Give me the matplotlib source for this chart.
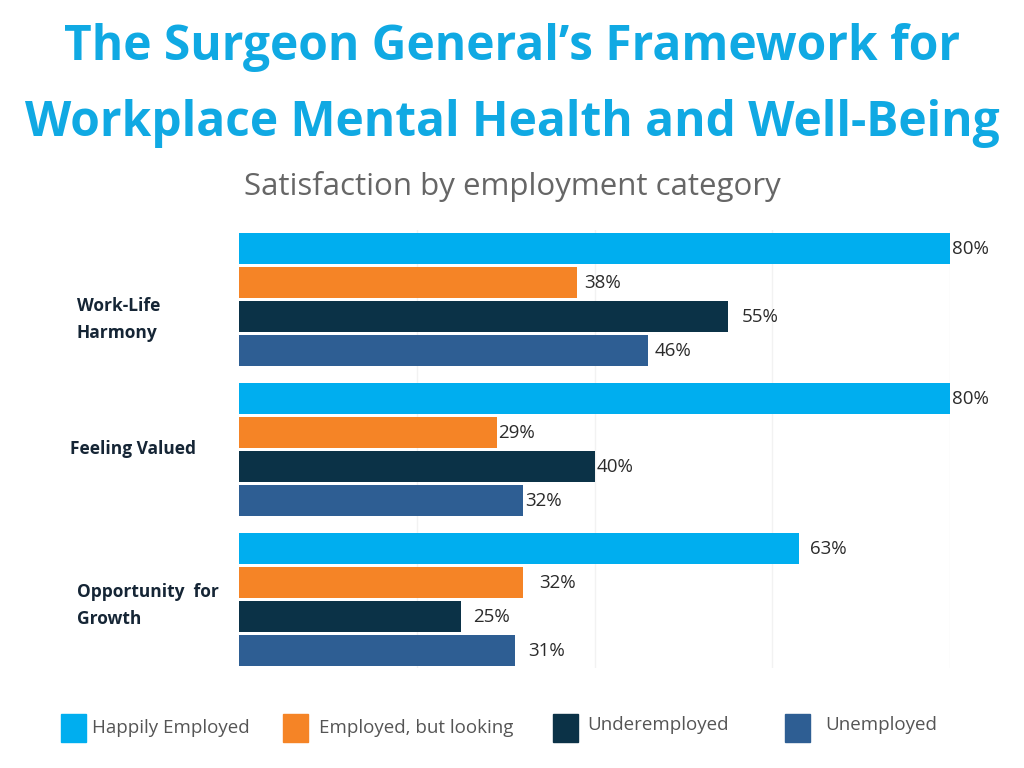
import matplotlib.pyplot as plt
from matplotlib.patches import Rectangle
from matplotlib.transforms import blended_transform_factory
import numpy as np

# data
categories = ["Work-Life\nHarmony", "Feeling Valued", "Opportunity  for\nGrowth"]
series = ["Happily Employed", "Employed, but looking", "Underemployed", "Unemployed"]
happily = [80, 80, 63]
looking = [38, 29, 32]
underemployed = [55, 40, 25]
unemployed = [46, 32, 31]
values = [happily, looking, underemployed, unemployed]

colors = ["#00AEEF", "#F58426", "#0B3247", "#2E5E93"]
# extra gap (in %) between bar end and its label, per series / category
label_pad = [[0.2, 0.2, 1.3],
             [0.8, 0.2, 1.8],
             [1.6, 0.2, 1.3],
             [0.8, 0.2, 1.5]]
# vertical nudge (px) of the category labels
cat_nudge = [20, 0, 6]

plt.rcParams['font.family'] = ['Open Sans', 'DejaVu Sans']

fig = plt.figure(figsize=(10.24, 7.68), dpi=100)
ax = fig.add_axes([239/1024, 1 - 668/768, (950 - 239)/1024, (668 - 230)/768])

step = 34/150
height = 31/150
for i, vals in enumerate(values):
    ys = np.arange(len(categories)) + i*step
    ax.barh(ys, vals, height=height, color=colors[i], zorder=2)
    for j, (y, v) in enumerate(zip(ys, vals)):
        ax.text(v + label_pad[i][j], y, f"{v}%", va='center', ha='left',
                fontsize=13.5, color='#2b2b2b', clip_on=False)

ax.set_xlim(0, 80)
ax.set_ylim((668 - 248.5)/150, (230 - 248.5)/150)
ax.set_xticks([20, 40, 60, 80])
ax.grid(axis='x', color='#f2f2f2', lw=1, zorder=0)
ax.tick_params(left=False, bottom=False, labelleft=False, labelbottom=False)
for s in ax.spines.values():
    s.set_visible(False)

# category labels
tr = blended_transform_factory(fig.transFigure, ax.transData)
centers = np.arange(len(categories)) + 1.5*step
for c, y, dy in zip(categories, centers, cat_nudge):
    x = 70/1024 if "\n" not in c else 77/1024
    ax.text(x, y + dy/150, c, transform=tr, ha='left', va='center', fontsize=12.5,
            fontweight='bold', color='#152535', linespacing=1.6)

# titles
fig.text(0.5, 1 - 48/768, "The Surgeon General\u2019s Framework for", ha='center', va='center',
         fontsize=34.5, fontweight='bold', color='#10A9E3')
fig.text(0.5, 1 - 123/768, "Workplace Mental Health and Well-Being", ha='center', va='center',
         fontsize=34.5, fontweight='bold', color='#10A9E3')
fig.text(0.5, 1 - 187/768, "Satisfaction by employment category", ha='center', va='center',
         fontsize=22.5, color='#666666')

# legend
leg_x = [61, 283, 553, 785]
leg_tx = [92, 319, 587, 825]
for k, name in enumerate(series):
    fig.patches.append(Rectangle((leg_x[k]/1024, 1 - 742/768), 25/1024, 28/768,
                                 transform=fig.transFigure, color=colors[k]))
    fig.text(leg_tx[k]/1024, 1 - (728 if k < 2 else 725)/768, name, ha='left', va='center',
             fontsize=13.5, color='#555555')

plt.savefig("out.png", dpi=100)
